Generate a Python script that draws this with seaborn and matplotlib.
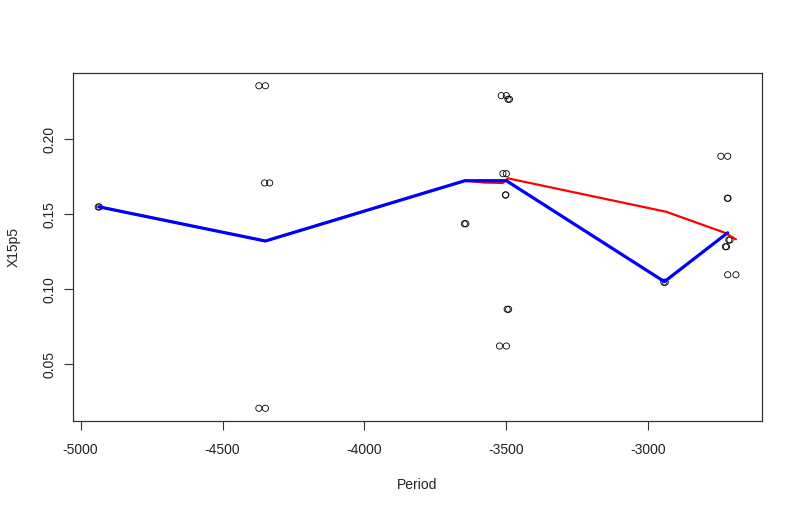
import numpy as np
import pandas as pd
import matplotlib
matplotlib.use('Agg')
import matplotlib.pyplot as plt
import seaborn as sns

# scatter points (Period, X15p5)
period = [-4938, -4934,
          -4372, -4349, -4352, -4334, -4372, -4349,
          -3648, -3643,
          -3512, -3500, -3503, -3502,
          -3518, -3500, -3494, -3489,
          -3497, -3492, -3524, -3500,
          -2945, -2940,
          -2744, -2720, -2721, -2719,
          -2716, -2712, -2728, -2724,
          -2720, -2691]
x15p5 = [0.1549, 0.1549,
         0.2357, 0.2357, 0.1709, 0.1709, 0.0207, 0.0207,
         0.1437, 0.1437,
         0.1771, 0.1771, 0.1629, 0.1629,
         0.2291, 0.2291, 0.2267, 0.2267,
         0.0867, 0.0867, 0.0622, 0.0622,
         0.1047, 0.1047,
         0.1887, 0.1887, 0.1607, 0.1607,
         0.1329, 0.1329, 0.1284, 0.1284,
         0.1097, 0.1097]

# red fitted line
red_x = [-4936, -4349, -3646, -3580, -3512, -3495, -2937, -2730, -2691]
red_y = [0.1550, 0.1322, 0.1724, 0.1712, 0.1709, 0.1740, 0.1517, 0.1377, 0.1333]

# blue fitted line
blue_x = [-4936, -4349, -3646, -3500, -2943, -2720]
blue_y = [0.1550, 0.1322, 0.1724, 0.1724, 0.1051, 0.1377]

x_ticks = [-5000, -4500, -4000, -3500, -3000]
y_ticks = [0.05, 0.10, 0.15, 0.20]

sns.set_style('ticks')
plt.rcParams['font.family'] = ['Liberation Sans', 'DejaVu Sans']

fig = plt.figure(figsize=(8, 5.12), dpi=100)
ax = fig.add_axes([0.0909, 0.1777, 0.8620, 0.6803])

pts = pd.DataFrame({'Period': period, 'X15p5': x15p5})
sns.scatterplot(data=pts, x='Period', y='X15p5', ax=ax, marker='o',
                facecolor='none', edgecolor='black', s=20, linewidth=0.6,
                zorder=2)

red = pd.DataFrame({'Period': red_x, 'X15p5': red_y})
blue = pd.DataFrame({'Period': blue_x, 'X15p5': blue_y})
sns.lineplot(data=red, x='Period', y='X15p5', ax=ax, sort=False,
             estimator=None, color='#ff0000', linewidth=1.6, zorder=3)
sns.lineplot(data=blue, x='Period', y='X15p5', ax=ax, sort=False,
             estimator=None, color='#0000ff', linewidth=2.3, zorder=4)

ax.set_xlim(-5028, -2598)
ax.set_ylim(0.0122, 0.2444)
ax.set_xticks(x_ticks)
ax.set_xticklabels([str(t) for t in x_ticks])
ax.set_yticks(y_ticks)
ax.set_yticklabels([f'{t:.2f}' for t in y_ticks], rotation=90, va='center')

for side in ['top', 'right', 'bottom', 'left']:
    ax.spines[side].set_visible(True)
    ax.spines[side].set_color('#333333')
    ax.spines[side].set_linewidth(0.9)

ax.tick_params(axis='x', direction='out', length=6.5, width=0.8,
               color='#333333', labelsize=10, pad=9.4, labelcolor='#222222')
ax.tick_params(axis='y', direction='out', length=6.5, width=0.8,
               color='#333333', labelsize=10, pad=5.3, labelcolor='#222222')

ax.set_xlabel('Period', fontsize=10, labelpad=15, color='#222222')
ax.set_ylabel('X15p5', fontsize=10, labelpad=15.5, color='#222222')

fig.savefig('out.png', dpi=100)
